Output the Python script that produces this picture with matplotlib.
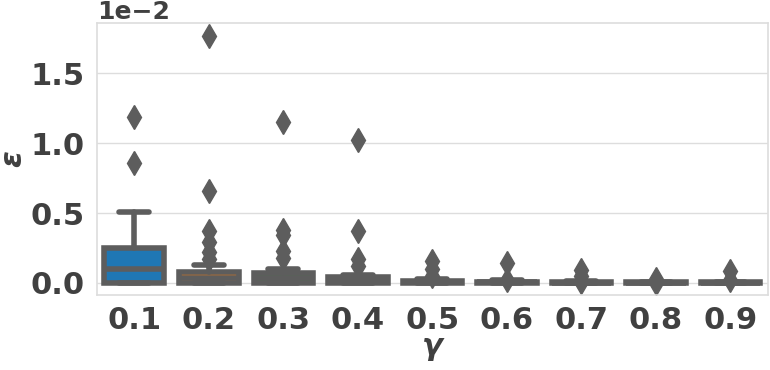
import numpy as np
import matplotlib
matplotlib.use("Agg")
import matplotlib.pyplot as plt
import seaborn as sns

# values, in units of 1e-2
gammas = ["0.1", "0.2", "0.3", "0.4", "0.5", "0.6", "0.7", "0.8", "0.9"]
q1 = [0.0, 0.0, 0.0, 0.0, 0.0, 0.0, 0.0, 0.0, 0.0]
med = [0.10, 0.038, 0.035, 0.012, 0.004, 0.003, 0.002, 0.001, 0.001]
q3 = [0.25, 0.08, 0.074, 0.043, 0.014, 0.010, 0.006, 0.004, 0.005]
whislo = [0.0, 0.0, 0.0, 0.0, 0.0, 0.0, 0.0, 0.0, 0.0]
whishi = [0.507, 0.128, 0.10, 0.057, 0.03, 0.02, 0.012, 0.008, 0.01]
fliers = [
    [1.19, 0.86],
    [1.77, 0.66, 0.37, 0.29, 0.22, 0.17],
    [1.15, 0.38, 0.34, 0.23, 0.18],
    [1.02, 0.37, 0.17, 0.12],
    [0.155, 0.10, 0.05],
    [0.14, 0.02],
    [0.09, 0.05, 0.01],
    [0.03, 0.0],
    [0.085, 0.02],
]
SCALE = 1e-2

sns.set_theme(style="whitegrid")
txt = "#404040"
gray = "#5d5d5d"
plt.rcParams["font.family"] = ["DejaVu Sans"]

fig = plt.figure(figsize=(7.7, 3.7), dpi=100)
ax = fig.add_axes([0.126, 0.204, 0.871, 0.734])

stats = []
for i, g in enumerate(gammas):
    stats.append(dict(
        label=g,
        q1=q1[i] * SCALE, med=med[i] * SCALE, q3=q3[i] * SCALE,
        whislo=whislo[i] * SCALE, whishi=whishi[i] * SCALE,
        fliers=np.array(fliers[i]) * SCALE,
    ))

lw = 4.0
bp = ax.bxp(stats, positions=range(len(gammas)), widths=0.8, patch_artist=True,
            boxprops=dict(edgecolor=gray, linewidth=lw),
            whiskerprops=dict(color=gray, linewidth=lw, solid_capstyle="round"),
            capprops=dict(color=gray, linewidth=lw, solid_capstyle="round"),
            medianprops=dict(color=gray, linewidth=lw),
            flierprops=dict(marker="d", markersize=12, markerfacecolor=gray,
                            markeredgecolor=gray),
            capwidths=0.4)
palette = sns.color_palette("tab10", len(gammas))
for patch, c in zip(bp["boxes"], palette):
    patch.set_facecolor(c)

ax.set_xlim(-0.5, 8.5)
ax.set_ylim(-0.083 * SCALE, 1.86 * SCALE)
ax.set_yticks(np.array([0.0, 0.5, 1.0, 1.5]) * SCALE)
ax.ticklabel_format(axis="y", style="sci", scilimits=(0, 0))
ax.grid(axis="x", visible=False)
ax.grid(axis="y", color="#dddddd", linewidth=1.0)
for s in ax.spines.values():
    s.set_color("#dddddd")
    s.set_linewidth(1.2)

ax.tick_params(axis="both", labelsize=22, labelcolor=txt)
ax.tick_params(axis="x", pad=2)
ax.tick_params(axis="y", pad=3)
for lab in ax.get_xticklabels() + ax.get_yticklabels():
    lab.set_fontweight("bold")
off = ax.yaxis.get_offset_text()
off.set_fontsize(18)
off.set_fontweight("bold")
off.set_color(txt)

ax.set_xlabel("γ", fontsize=22, fontweight="bold", fontstyle="italic",
              color=txt, labelpad=-2)
ax.set_ylabel("ε", fontsize=22, fontweight="bold", fontstyle="italic",
              color=txt, labelpad=2)

fig.savefig("out.png", dpi=100)
